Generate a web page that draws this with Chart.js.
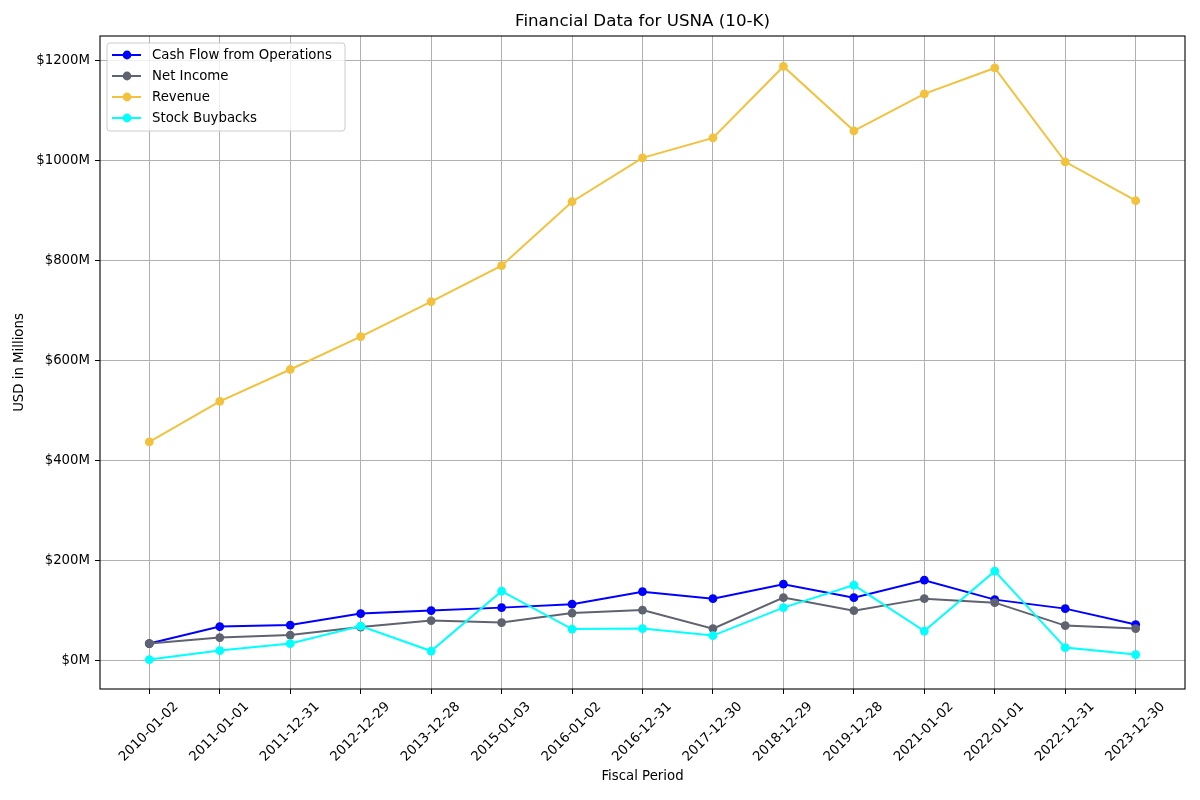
<!DOCTYPE html>
<html>
<head>
<meta charset="utf-8">
<script src="https://cdn.jsdelivr.net/npm/chart.js@4.4.0/dist/chart.umd.min.js"></script>
<style>
  html, body { margin: 0; padding: 0; background: #fff; }
</style>
</head>
<body>
<canvas id="chart" width="1200" height="800"></canvas>
<script>
// Fiscal periods (x axis)
const periods = ['2010-01-02', '2011-01-01', '2011-12-31', '2012-12-29', '2013-12-28',
  '2015-01-03', '2016-01-02', '2016-12-31', '2017-12-30', '2018-12-29',
  '2019-12-28', '2021-01-02', '2022-01-01', '2022-12-31', '2023-12-30'];

// Values in USD millions
const cashFlow  = [33, 67, 70, 93, 99, 105, 112, 137, 123, 152, 125, 160, 121, 103, 71];
const netIncome = [33, 45, 50, 66, 79, 75, 94, 100, 63, 125, 99, 123, 115, 69, 63];
const revenue   = [437, 518, 582, 648, 718, 790, 918, 1006, 1046, 1189, 1060, 1134, 1186, 998, 920];
const buybacks  = [1, 19, 33, 68, 18, 138, 62, 63, 49, 105, 150, 58, 178, 25, 11];

const yTicks = [0, 200, 400, 600, 800, 1000, 1200];

const seriesNames  = ['Cash Flow from Operations', 'Net Income', 'Revenue', 'Stock Buybacks'];
const seriesValues = [cashFlow, netIncome, revenue, buybacks];
const seriesColors = ['#0000ff', '#5f6370', '#f2c23e', '#00ffff'];

const FONT = 'DejaVu Sans';

// matplotlib draws later series on top
const datasets = seriesNames.map((name, i) => ({
  label: name,
  data: seriesValues[i].map((v, j) => ({ x: j, y: v })),
  borderColor: seriesColors[i],
  backgroundColor: seriesColors[i],
  borderWidth: 2,
  pointRadius: 4.4,
  pointBorderWidth: 0,
  pointHoverRadius: 4.4,
  order: seriesNames.length - i
}));

// title, frame and legend drawn the way matplotlib does it
const mplPlugin = {
  id: 'mpl',
  afterDatasetsDraw(chart) {
    const { ctx, chartArea: a } = chart;
    ctx.save();
    ctx.strokeStyle = '#000';
    ctx.lineWidth = 1.1;
    ctx.strokeRect(a.left, a.top, a.right - a.left, a.bottom - a.top);
    ctx.restore();
  },
  afterDraw(chart) {
    const { ctx, chartArea: a } = chart;
    ctx.save();
    // title
    ctx.fillStyle = '#000';
    ctx.font = '16.7px "' + FONT + '"';
    ctx.textAlign = 'center';
    ctx.textBaseline = 'middle';
    ctx.fillText('Financial Data for USNA (10-K)', (a.left + a.right) / 2, 22);

    // legend box
    const x0 = a.left + 7, y0 = a.top + 7, w = 238, h = 88, r = 3;
    ctx.beginPath();
    ctx.roundRect(x0, y0, w, h, r);
    ctx.fillStyle = 'rgba(255,255,255,0.8)';
    ctx.fill();
    ctx.strokeStyle = '#cccccc';
    ctx.lineWidth = 1;
    ctx.stroke();

    ctx.font = '13.3px "' + FONT + '"';
    ctx.textAlign = 'left';
    seriesNames.forEach((name, i) => {
      const y = y0 + 12 + i * 21;
      ctx.strokeStyle = seriesColors[i];
      ctx.lineWidth = 2;
      ctx.beginPath();
      ctx.moveTo(x0 + 5, y);
      ctx.lineTo(x0 + 34, y);
      ctx.stroke();
      ctx.fillStyle = seriesColors[i];
      ctx.beginPath();
      ctx.arc(x0 + 20, y, 4.4, 0, Math.PI * 2);
      ctx.fill();
      ctx.fillStyle = '#000';
      ctx.fillText(name, x0 + 45, y + 1);
    });
    ctx.restore();
  }
};

new Chart(document.getElementById('chart'), {
  type: 'line',
  data: { datasets },
  plugins: [mplPlugin],
  options: {
    responsive: false,
    animation: false,
    devicePixelRatio: 1,
    layout: { padding: { top: 36, right: 15, left: 0, bottom: 0 } },
    plugins: {
      legend: { display: false },
      title: { display: false },
      tooltip: { enabled: false }
    },
    scales: {
      x: {
        type: 'linear',
        min: -0.7,
        max: 14.7,
        afterBuildTicks: (scale) => { scale.ticks = periods.map((_, i) => ({ value: i })); },
        afterFit: (scale) => { scale.height = 111; },
        grid: { color: '#b0b0b0', lineWidth: 1, tickLength: 5, tickColor: '#000' },
        border: { display: false },
        ticks: {
          autoSkip: false,
          maxRotation: 45,
          minRotation: 45,
          labelOffset: 27,
          padding: 5,
          color: '#000',
          font: { family: FONT, size: 13.3 },
          callback: (v) => periods[v]
        },
        title: {
          display: true,
          text: 'Fiscal Period',
          color: '#000',
          font: { family: FONT, size: 13.3 },
          padding: { top: 0, bottom: 15 }
        }
      },
      y: {
        min: -58,
        max: 1250,
        afterBuildTicks: (scale) => { scale.ticks = yTicks.map(v => ({ value: v })); },
        afterFit: (scale) => { scale.width = 100; },
        grid: { color: '#b0b0b0', lineWidth: 1, tickLength: 5, tickColor: '#000' },
        border: { display: false },
        ticks: {
          padding: 5,
          color: '#000',
          font: { family: FONT, size: 13.3 },
          callback: (v) => '$' + v + 'M'
        },
        title: {
          display: true,
          text: 'USD in Millions',
          color: '#000',
          font: { family: FONT, size: 13.3 },
          padding: { top: 12, bottom: 0 }
        }
      }
    }
  }
});
</script>
</body>
</html>
